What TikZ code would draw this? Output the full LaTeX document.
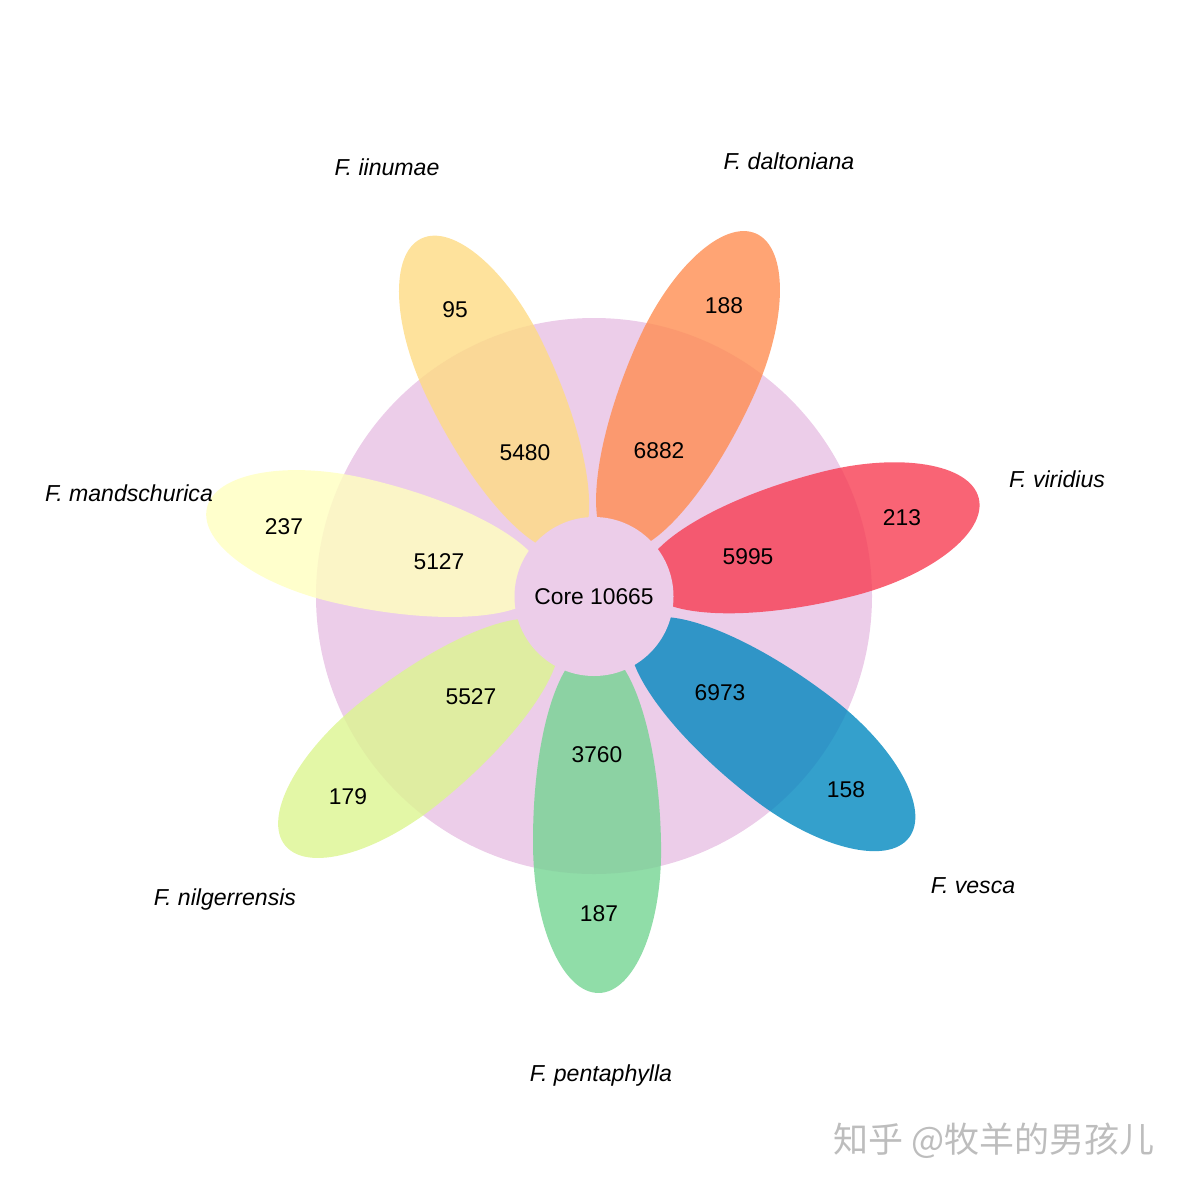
\documentclass[tikz,border=0pt]{standalone}
\usepackage{fontspec}
\setmainfont{Liberation Sans}
\newfontfamily\cjkfont{Noto Sans CJK SC}
\definecolor{corepink}{HTML}{ECCDE9}
\definecolor{petalA}{HTML}{F73D52}
\definecolor{petalB}{HTML}{FF8D51}
\definecolor{petalC}{HTML}{FEDB83}
\definecolor{petalD}{HTML}{FFFFBF}
\definecolor{petalE}{HTML}{DCF590}
\definecolor{petalF}{HTML}{74D492}
\definecolor{petalG}{HTML}{0188BF}
\tikzset{
  count/.style={font=\fontsize{22.8}{27}\selectfont,inner sep=0pt},
  species/.style={font=\fontsize{23.1}{27}\selectfont\itshape,inner sep=0pt},
  corecirc/.style={circle,fill=corepink,minimum size=159pt,inner sep=0pt,font=\fontsize{22.8}{27}\selectfont}
}
\begin{document}
\begin{tikzpicture}[x=1pt,y=-1pt]
\useasboundingbox (0,0) rectangle (1184,1186);
\coordinate (centre) at (594,596);
% Background disc
\fill[corepink] (centre) circle [radius=278pt];
% Seven egg-shaped petals around the core
\foreach \ang/\col in {14.3/petalA,65.9/petalB,115.8/petalC,167.2/petalD,218.9/petalE,270.7/petalF,322.5/petalG} {
  \fill[\col,opacity=0.8,shift={(centre)},rotate=\ang] (51pt,0pt)
    arc [start angle=180,end angle=270,x radius=200pt,y radius=64pt]
    arc [start angle=270,end angle=450,x radius=146pt,y radius=64pt]
    arc [start angle=90,end angle=180,x radius=200pt,y radius=64pt] -- cycle;
}
% Core
\node[corecirc] (core) at (594,596.5) {Core 10665};
% Counts inside and outside the disc
\foreach \name/\px/\py/\val in {a1/748/557/5995,a2/902/518/213,b1/659/451/6882,b2/724/306/188,c1/525/453/5480,c2/455/310/95,d1/439/562/5127,d2/284/527/237,e1/471/697/5527,e2/348/797/179,f1/597/755/3760,f2/599/914/187,g1/720/693/6973,g2/846/790/158} {
  \node[count] (\name) at (\px,\py) {\val};
}
% Species names
\node[species] (viridius) at (1057,479) {F. viridius};
\node[species] (daltoniana) at (789,161) {F. daltoniana};
\node[species] (iinumae) at (387,167) {F. iinumae};
\node[species] (mandschurica) at (129,493) {F. mandschurica};
\node[species] (nilgerrensis) at (225,899.5) {F. nilgerrensis};
\node[species] (pentaphylla) at (601,1075.5) {F. pentaphylla};
\node[species] (vesca) at (973,886) {F. vesca};
% Watermark
\node[inner sep=0pt,text=black!26,font=\cjkfont\fontsize{35}{40}\selectfont] (mark) at (994,1141) {知乎 @牧羊的男孩儿};
\end{tikzpicture}
\end{document}
